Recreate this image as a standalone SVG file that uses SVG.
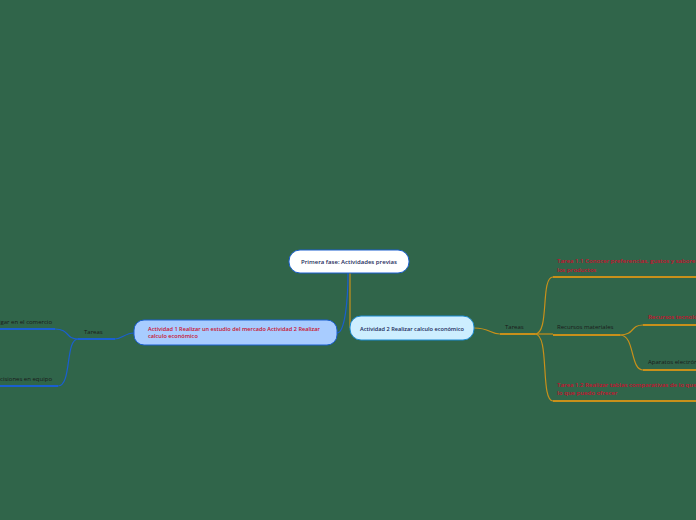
<svg xmlns="http://www.w3.org/2000/svg" width="696" height="520" viewBox="0 0 696 520">
<style>
text{font-family:"Open Sans","Liberation Sans",sans-serif;font-size:6px;fill:#1a1a1a}
.r{fill:#c8102e;font-weight:600}
.b{fill:none;stroke:#1a5fd0;stroke-width:1.2}
.bu{fill:none;stroke:#1a5fd0;stroke-width:2}
.o{fill:none;stroke:#c8901a;stroke-width:1.2}
.ou{fill:none;stroke:#c8901a;stroke-width:2}
</style>
<rect width="696" height="520" fill="#30654a"/>
<g id="connectors">
<path class="b" d="M348,273 C348,300 345,333 337,333"/>
<path class="o" d="M350,273 C350,300 350,328 350,328"/>
<path class="b" d="M134,333 C125,333 122,339 115,339"/>
<path class="bu" d="M78,339 H115"/>
<path class="b" d="M78,339 C65,339 70,329 55,329"/>
<path class="bu" d="M0,329 H55"/>
<path class="b" d="M78,339 C65,339 72,386 58,386"/>
<path class="bu" d="M0,386 H58"/>
<path class="o" d="M474,328 C490,328 490,334 500,334"/>
<path class="ou" d="M500,334 H535"/>
<path class="o" d="M535,334 C550,334 540,277 553,277"/>
<path class="ou" d="M553,277 H696"/>
<path class="ou" d="M553,335 H620"/>
<path class="o" d="M535,334 H553"/>
<path class="o" d="M535,334 C550,334 540,401 553,401"/>
<path class="ou" d="M553,401 H696"/>
<path class="o" d="M620,335 C635,335 630,325 643,325"/>
<path class="ou" d="M643,325 H696"/>
<path class="o" d="M620,335 C635,335 630,370 643,370"/>
<path class="ou" d="M643,370 H696"/>
</g>
<g id="central"><rect x="289" y="250" width="120" height="23" rx="11" fill="#fff" stroke="#1a5fd0"/><text x="349" y="264" text-anchor="middle" style="font-weight:600;fill:#1a2a5a">Primera fase: Actividades previas</text></g>
<g id="act1"><rect x="134" y="320" width="203" height="25" rx="10" fill="#a8ccff" stroke="#1a5fd0"/><text class="r" x="148" y="331" style="font-size:5.6px">Actividad 1  Realizar un estudio del mercado Actividad 2  Realizar</text><text class="r" x="148" y="338" style="font-size:5.6px">calculo económico</text></g>
<g id="act2"><rect x="350" y="316" width="124" height="24" rx="11" fill="#cdeeff" stroke="#1a8ad0"/><text x="412" y="331" text-anchor="middle" style="font-weight:600;fill:#1a2a5a;font-size:5.6px">Actividad 2  Realizar calculo económico</text></g>
<g id="tareasL"><text x="84" y="334">Tareas</text></g>
<g id="l1"><text x="52" y="324" text-anchor="end">Investigar en el comercio</text></g>
<g id="l2"><text x="52" y="381" text-anchor="end">Tomar decisiones en equipo</text></g>
<g id="tareasR"><text x="505" y="329">Tareas</text></g>
<g id="t11"><text class="r" x="557" y="263">Tarea 1.1 Conocer preferencias, gustos y sabores de</text><text class="r" x="557" y="272">los productos</text></g>
<g id="rm"><text x="557" y="329">Recursos materiales</text></g>
<g id="rt"><text class="r" x="648" y="319">Recursos tecnológicos</text></g>
<g id="ae"><text x="648" y="364">Aparatos electrónicos</text></g>
<g id="t12"><text class="r" x="557" y="387">Tarea 1.2 Realizar tablas comparativas de lo que</text><text class="r" x="557" y="395">lo que puedo ofrecer</text></g>
</svg>
